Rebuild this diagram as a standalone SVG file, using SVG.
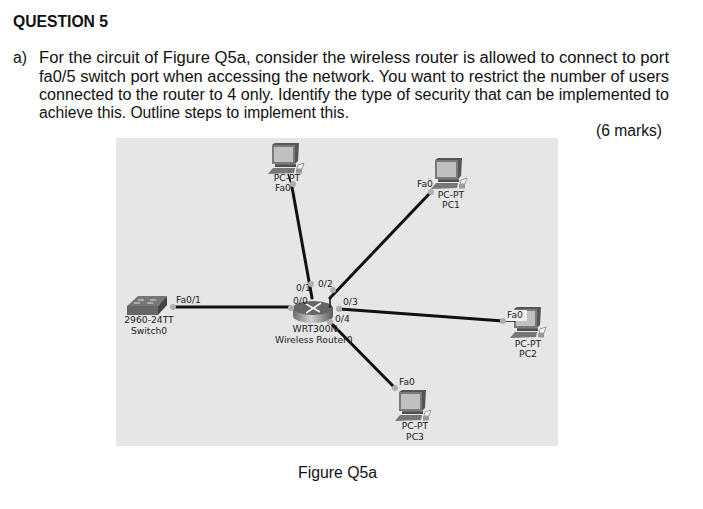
<svg xmlns="http://www.w3.org/2000/svg" width="703" height="509" viewBox="0 0 703 509">
<style>
.b{font-family:"Liberation Sans",Arial,sans-serif;font-size:16px;fill:#111}
.l{font-family:"DejaVu Sans",sans-serif;font-size:9.2px;fill:#222}
.m{text-anchor:middle}
.link{stroke:#111;stroke-width:3;fill:none;stroke-linecap:round}
.thin{stroke:#111;stroke-width:1.5;fill:none}
.dot{fill:#aeaeae}
</style>
<defs>
<linearGradient id="rg" x1="0" x2="1" y1="0" y2="0"><stop offset="0" stop-color="#6e6e6e"/><stop offset=".45" stop-color="#cfcfcf"/><stop offset="1" stop-color="#5c5c5c"/></linearGradient>
<g id="pc">
<polygon points="0,1 3,-1 27,-1 26,17 23,20 0,20" fill="#555"/>
<rect x="0" y="1" width="23" height="19" fill="#7a7a7a"/>
<rect x="2" y="3" width="19" height="15" fill="#c0c0c0"/>
<polygon points="3,20 24,20 24,23 3,23" fill="#6a6a6a"/>
<rect x="3" y="21.5" width="21" height="1" fill="#333"/>
<polygon points="1,24 23,24 22,29 -4,30" fill="#777"/>
<polygon points="26,21 32,19 30,25 25,25" fill="#f2f2f2" stroke="#888" stroke-width=".8"/>
<rect x="24" y="25" width="6" height="4.5" fill="#999"/>
</g>
</defs>
<rect width="703" height="509" fill="#fff"/>
<text x="13" y="27" class="b" font-weight="700" textLength="95" lengthAdjust="spacingAndGlyphs">QUESTION 5</text>
<text x="13" y="63" class="b" textLength="14" lengthAdjust="spacingAndGlyphs">a)</text>
<text x="39" y="63" class="b" textLength="630" lengthAdjust="spacingAndGlyphs">For the circuit of Figure Q5a, consider the wireless router is allowed to connect to port</text>
<text x="39" y="82" class="b" textLength="630" lengthAdjust="spacingAndGlyphs">fa0/5 switch port when accessing the network. You want to restrict the number of users</text>
<text x="39" y="100" class="b" textLength="630" lengthAdjust="spacingAndGlyphs">connected to the router to 4 only. Identify the type of security that can be implemented to</text>
<text x="39" y="118" class="b" textLength="310" lengthAdjust="spacingAndGlyphs">achieve this. Outline steps to implement this.</text>
<text x="596" y="136" class="b" textLength="66" lengthAdjust="spacingAndGlyphs">(6 marks)</text>
<rect x="116" y="138" width="442" height="308" fill="#e6e6e6"/>
<g id="pc0"><use href="#pc" x="272" y="144"/><text x="287" y="181" class="l m">PC-PT</text><text x="275" y="191" class="l">Fa0</text></g>
<g id="pc1"><use href="#pc" x="435" y="159"/><text x="451" y="198" class="l m">PC-PT</text><text x="451" y="208" class="l m">PC1</text><text x="417" y="187" class="l">Fa0</text></g>
<g id="pc2"><use href="#pc" x="514" y="308"/><text x="528" y="347" class="l m">PC-PT</text><text x="528" y="357" class="l m">PC2</text></g>
<g id="pc3"><use href="#pc" x="399" y="391"/><text x="415" y="429" class="l m">PC-PT</text><text x="415" y="440" class="l m">PC3</text><text x="399" y="385" class="l">Fa0</text></g>
<g id="switch0">
<polygon points="127,306 138,296 167,296 158,306" fill="#777"/>
<polygon points="127,306 158,306 158,315 127,315" fill="#666"/>
<polygon points="158,306 167,296 167,305 158,315" fill="#444"/>
<path d="M138,300h6M150,300h6M134,303h6M147,303h6" stroke="#ddd" stroke-width="1"/>
<text x="149" y="323" class="l m">2960-24TT</text><text x="149" y="334" class="l m">Switch0</text><text x="176" y="303" class="l">Fa0/1</text>
</g>
<g id="router">
<path d="M293,308v8a20,7 0 0 0 40,0v-8z" fill="url(#rg)"/>
<ellipse cx="313" cy="308" rx="20" ry="7" fill="#666"/>
<path d="M306,304l14,8M321,303l-15,10" stroke="#eee" stroke-width="1.6"/>
<text x="315" y="332" class="l m">WRT300N</text><text x="275" y="343" class="l">Wireless Router0</text>
<text x="296" y="291" class="l">0/1</text><text x="318" y="287" class="l">0/2</text><text x="343" y="305" class="l">0/3</text><text x="335" y="322" class="l">0/4</text>
</g>
<g id="connectors">
<path class="thin" d="M288,174L292,187M330,298L330,308M503,321L515,321"/>
<path class="link" d="M292,187L312,298"/>
<path class="link" d="M430,193L330,298"/>
<path class="link" d="M173,307L290,307"/>
<path class="link" d="M340,309L503,321"/>
<path class="link" d="M330,322L395,388"/>
<circle class="dot" cx="293" cy="184" r="3"/><circle class="dot" cx="431" cy="192" r="3"/><circle class="dot" cx="173" cy="307" r="3"/><circle class="dot" cx="291" cy="308" r="3"/><circle class="dot" cx="311" cy="284" r="3"/><circle class="dot" cx="333" cy="290" r="3"/><circle class="dot" cx="339" cy="309" r="3"/><circle class="dot" cx="330" cy="322" r="3"/><circle class="dot" cx="503" cy="321" r="3"/><circle class="dot" cx="395" cy="388" r="3"/>
</g>
<g id="port-labels"><text x="293" y="304" class="l">0/0</text><rect x="506" y="310" width="21" height="11" fill="#eee"/><text x="507" y="318" class="l">Fa0</text></g>
<text x="298" y="478" class="b" textLength="79" lengthAdjust="spacingAndGlyphs">Figure Q5a</text>
</svg>
